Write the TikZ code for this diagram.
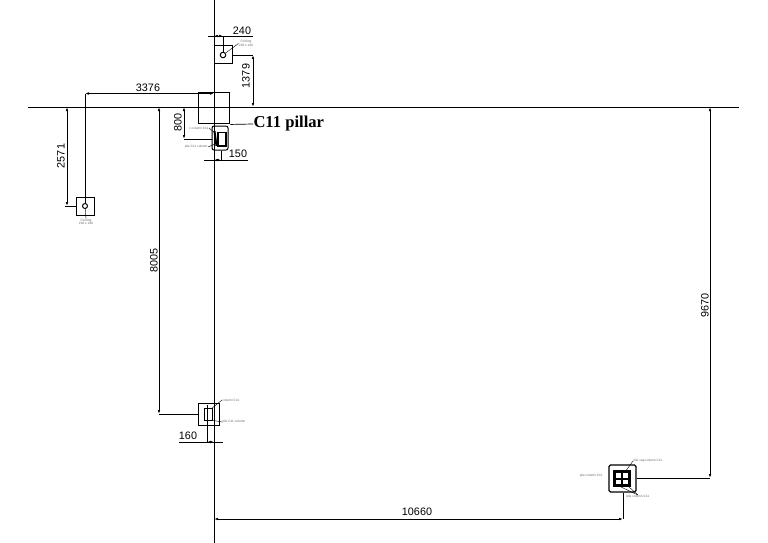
\documentclass[tikz,border=0pt]{standalone}
\usepackage{fontspec}
\setmainfont{Liberation Sans}
\newfontfamily\labelfont{Liberation Serif}
\usetikzlibrary{positioning, arrows.meta}
\newcommand{\dimtext}[1]{\fontsize{10.8}{12}\selectfont #1}

\begin{document}
\begin{tikzpicture}[x=1pt, y=-1pt, line width=1pt,
        main/.style = {draw, rectangle, inner sep=0pt, minimum width=18pt, minimum height=18pt},
        dim/.style = {line width=0.9pt, {Latex[length=4pt,width=2.6pt]}-{Latex[length=4pt,width=2.6pt]}},
        ext/.style = {line width=0.9pt},
        dimlabel/.style = {inner sep=0pt, text=black},
        tinylabel/.style = {inner sep=0pt, text=black!60, font=\fontsize{3.2}{3.6}\selectfont, align=center},
        leader/.style = {line width=0.4pt}]
        \useasboundingbox (0,0) rectangle (768,543);
        \fill[white] (0,0) rectangle (768,543);

        % grid lines
        \coordinate (datumL) at (28,107);
        \coordinate (datumR) at (739,107);
        \coordinate (axisT) at (214,0);
        \coordinate (axisB) at (214,543);
        \draw (datumL) -- (datumR);
        \draw (axisT) -- (axisB);

        % footings
        \node[main] (top) at (223,55) {};
        \node[main] (left) at (85,206) {};
        \node[draw, minimum width=31.5pt, minimum height=31.5pt, inner sep=0pt] (pillar) at (214.2,108.2) {};
        \node[draw, rounded corners=2pt, minimum width=16pt, minimum height=24pt, inner sep=0pt] (c11) at (220,138) {};
        \node[main, minimum width=21pt, minimum height=22pt] (mid) at (208.5,414) {};
        \node[draw, rounded corners=1.5pt, line width=1.2pt, minimum width=27pt, minimum height=27pt, inner sep=0pt] (big) at (622.5,478.5) {};

        % inner parts
        \node[draw, circle, minimum size=5.5pt, inner sep=0pt] (topc) at (223,55) {};
        \node[draw, circle, minimum size=5pt, inner sep=0pt] (leftc) at (85,206) {};
        \draw[line width=2pt] (214.5,131) -- (216.5,146);
        \draw[line width=1.4pt] (218,132.5) -- (226,132.5) -- (226,146) -- (218,146) -- cycle;
        \node[draw, line width=1.3pt, minimum width=8pt, minimum height=12pt, inner sep=0pt] (midc) at (208.5,414.5) {};
        \node[draw, line width=2.6pt, minimum width=15pt, minimum height=14pt, inner sep=0pt] (bigc) at (622,478.5) {};
        \draw[line width=2pt] (bigc.north) -- (bigc.south);
        \draw[line width=2pt] (bigc.west) -- (bigc.east);

        % 240
        \coordinate (d240L) at (208,36);
        \coordinate (d240R) at (253,36);
        \draw[ext] (d240L) -- (d240R);
        \draw[dim] (214,36) -- (223,36);
        \draw[ext] (223,36) -- (topc);
        \node[dimlabel] (l240) at (242,31) {\dimtext{240}};

        % 1379
        \coordinate (d1379) at (253,55);
        \draw[ext] (top.east) -- (d1379);
        \draw[dim] (d1379) -- (d1379 |- datumL);
        \node[dimlabel, rotate=90] (l1379) at (246,76) {\dimtext{1379}};

        % 3376
        \coordinate (d3376) at (85,93.5);
        \draw[dim] (d3376) -- (214,93.5);
        \draw[ext] (d3376) -- (left.north -| d3376);
        \draw[ext] (85,197) -- (leftc);
        \node[dimlabel] (l3376) at (148,88) {\dimtext{3376}};

        % 2571
        \coordinate (d2571) at (67,206);
        \draw[ext] (65,206) -- (left.west);
        \draw[dim] (d2571) -- (d2571 |- datumL);
        \node[dimlabel, rotate=90] (l2571) at (61,156) {\dimtext{2571}};

        % 800
        \coordinate (d800) at (184,139);
        \draw[ext] (d800) -- (c11.west |- d800);
        \draw[dim] (d800) -- (d800 |- datumL);
        \node[dimlabel, rotate=90] (l800) at (178,122) {\dimtext{800}};

        % 150
        \coordinate (d150) at (221,160);
        \draw[ext] (204,160) -- (248,160);
        \draw[dim] (214,160) -- (d150);
        \draw[ext] (c11.south -| d150) -- (d150);
        \node[dimlabel] (l150) at (238,154) {\dimtext{150}};

        % 8005
        \coordinate (d8005) at (159,414);
        \draw[ext] (d8005) -- (mid.west);
        \draw[dim] (d8005) -- (d8005 |- datumL);
        \node[dimlabel, rotate=90] (l8005) at (154,260) {\dimtext{8005}};

        % 160
        \coordinate (d160) at (207,442);
        \draw[ext] (179,442) -- (223,442);
        \draw[dim] (d160) -- (214,442);
        \draw[ext] (207,405) -- (d160);
        \node[dimlabel] (l160) at (188,436) {\dimtext{160}};

        % 9670
        \coordinate (d9670) at (710,478);
        \draw[ext] (big.east |- d9670) -- (d9670);
        \draw[dim] (d9670) -- (d9670 |- datumL);
        \node[dimlabel, rotate=90] (l9670) at (705,305) {\dimtext{9670}};

        % 10660
        \coordinate (d10660) at (623,519);
        \draw[ext] (big.south -| d10660) -- (d10660);
        \draw[dim] (214,519) -- (d10660);
        \node[dimlabel] (l10660) at (417,512) {\dimtext{10660}};

        % pillar name
        \node[inner sep=0pt, anchor=west, font=\labelfont\bfseries\fontsize{16.6}{18}\selectfont] (name) at (253,124) {C11 pillar};
        \draw[line width=0.7pt] (pillar.south east) -- (name.west);

        % small notes
        \node[tinylabel] (n1) at (246,43.5) {Footing\\240 x 140};
        \draw[leader] (topc) -- (n1.west);
        \node[tinylabel] (n2) at (86,222) {Footing\\240 x 140};
        \draw[leader] (leftc) -- (n2.north);
        \node[tinylabel, anchor=east] (n3) at (209,128) {c column C11};
        \draw[leader] (n3.east) -- (215,133);
        \node[tinylabel, anchor=east] (n4) at (208,147) {pile C11 column};
        \draw[leader] (n4.east) -- (215,144);
        \node[tinylabel, anchor=west] (n5) at (222,400) {column C11};
        \draw[leader] (n5.west) -- (211,409);
        \node[tinylabel, anchor=west] (n6) at (222,422) {pile C11 column};
        \draw[leader] (n6.west) -- (211,420);
        \node[tinylabel, anchor=west] (n7) at (633,461) {pile cap column C11};
        \draw[leader] (n7.west) -- (625,472);
        \node[tinylabel, anchor=east] (n8) at (603,476) {pile column C11};
        \node[tinylabel, anchor=west] (n9) at (626,497) {pile column C11};
        \draw[leader] (n9.north) -- (619,486);
        \draw[leader] (n9.north) -- (628,486);
    \end{tikzpicture}
\end{document}
